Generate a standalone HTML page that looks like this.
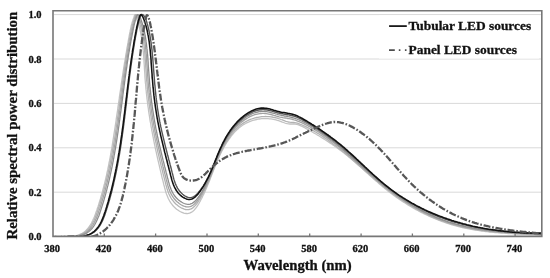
<!DOCTYPE html>
<html><head><meta charset="utf-8"><style>html,body{margin:0;padding:0;background:#fff;width:550px;height:278px;overflow:hidden}svg{display:block}</style></head>
<body><svg width="550" height="278" viewBox="0 0 550 278">
<rect width="550" height="278" fill="#fff"/>
<line x1="54" x2="541" y1="192.2" y2="192.2" stroke="#d9d9d9" stroke-width="1"/><line x1="54" x2="541" y1="147.8" y2="147.8" stroke="#d9d9d9" stroke-width="1"/><line x1="54" x2="541" y1="103.4" y2="103.4" stroke="#d9d9d9" stroke-width="1"/><line x1="54" x2="541" y1="59.0" y2="59.0" stroke="#d9d9d9" stroke-width="1"/><line x1="54" x2="541" y1="14.6" y2="14.6" stroke="#d9d9d9" stroke-width="1"/>
<g font-family="'Liberation Serif', serif" font-weight="bold" font-size="10.5" fill="#111" stroke="#111" stroke-width="0.3"><text x="52.2" y="252" text-anchor="middle">380</text><text x="103.6" y="252" text-anchor="middle">420</text><text x="154.9" y="252" text-anchor="middle">460</text><text x="206.3" y="252" text-anchor="middle">500</text><text x="257.6" y="252" text-anchor="middle">540</text><text x="309.0" y="252" text-anchor="middle">580</text><text x="360.4" y="252" text-anchor="middle">620</text><text x="411.7" y="252" text-anchor="middle">660</text><text x="463.1" y="252" text-anchor="middle">700</text><text x="514.4" y="252" text-anchor="middle">740</text><text x="41.5" y="240.2" text-anchor="end">0.0</text><text x="41.5" y="195.8" text-anchor="end">0.2</text><text x="41.5" y="151.4" text-anchor="end">0.4</text><text x="41.5" y="107.0" text-anchor="end">0.6</text><text x="41.5" y="62.6" text-anchor="end">0.8</text><text x="41.5" y="18.2" text-anchor="end">1.0</text></g>
<text x="297.6" y="269.6" text-anchor="middle" font-family="'Liberation Serif', serif" font-weight="bold" font-size="14.7" fill="#111" stroke="#111" stroke-width="0.3">Wavelength (nm)</text>
<text transform="translate(17,125.6) rotate(-90)" text-anchor="middle" font-family="'Liberation Serif', serif" font-weight="bold" font-size="14.85" fill="#111" stroke="#111" stroke-width="0.3">Relative spectral power distribution</text>
<clipPath id="pc"><rect x="53" y="10" width="488" height="227"/></clipPath>
<g clip-path="url(#pc)" stroke-linejoin="round"><path d="M44.0,236.8 45.1,236.7 46.2,236.7 47.4,236.6 48.6,236.6 49.8,236.6 51.1,236.7 52.4,236.7 53.7,236.7 55.0,236.8 56.4,236.8 57.8,236.9 59.2,236.9 60.6,236.9 62.0,236.9 63.4,237.0 64.9,236.9 66.3,236.9 67.7,236.9 69.1,236.8 70.4,236.7 71.8,236.5 73.1,236.3 74.5,236.1 75.7,235.8 77.0,235.5 78.2,235.1 79.4,234.7 80.5,234.2 81.6,233.7 82.7,233.0 83.7,232.4 84.6,231.7 85.5,230.9 86.4,230.0 87.2,229.1 88.0,228.2 88.8,227.2 89.5,226.2 90.2,225.2 90.9,224.1 91.5,223.0 92.1,221.8 92.7,220.6 93.2,219.4 93.8,218.2 94.3,217.0 94.8,215.7 95.3,214.4 95.8,213.1 96.2,211.8 96.7,210.5 97.1,209.3 97.5,208.0 98.0,206.7 98.4,205.4 98.8,204.1 99.2,202.8 99.6,201.5 100.0,200.2 100.4,198.9 100.7,197.6 101.1,196.3 101.5,195.0 101.8,193.7 102.2,192.5 102.6,191.2 102.9,189.9 103.2,188.6 103.6,187.3 103.9,186.0 104.2,184.7 104.6,183.5 104.9,182.2 105.2,180.9 105.5,179.6 105.8,178.3 106.1,177.0 106.4,175.8 106.7,174.5 106.9,173.2 107.2,171.9 107.5,170.6 107.8,169.4 108.0,168.1 108.3,166.8 108.6,165.5 108.8,164.2 109.1,163.0 109.3,161.7 109.6,160.4 109.8,159.1 110.1,157.8 110.3,156.6 110.5,155.3 110.8,154.0 111.0,152.7 111.2,151.4 111.4,150.2 111.7,148.9 111.9,147.6 112.1,146.3 112.3,145.0 112.5,143.7 112.7,142.5 112.9,141.2 113.1,139.9 113.3,138.6 113.5,137.3 113.7,136.0 113.9,134.7 114.1,133.4 114.3,132.2 114.5,130.9 114.7,129.6 114.9,128.3 115.1,127.0 115.3,125.7 115.5,124.4 115.7,123.1 115.9,121.8 116.1,120.5 116.2,119.2 116.4,117.9 116.6,116.6 116.8,115.3 117.0,114.0 117.2,112.7 117.4,111.4 117.6,110.1 117.8,108.8 117.9,107.5 118.1,106.2 118.3,104.9 118.5,103.6 118.7,102.3 118.9,101.0 119.1,99.7 119.3,98.3 119.4,97.0 119.6,95.7 119.8,94.4 120.0,93.1 120.2,91.8 120.4,90.5 120.6,89.2 120.8,87.9 121.0,86.6 121.2,85.2 121.3,83.9 121.5,82.6 121.7,81.3 121.9,80.0 122.1,78.7 122.3,77.4 122.5,76.1 122.7,74.8 122.9,73.4 123.1,72.1 123.3,70.8 123.5,69.5 123.7,68.2 123.9,66.9 124.1,65.6 124.3,64.3 124.5,63.0 124.8,61.7 125.0,60.4 125.2,59.1 125.4,57.8 125.6,56.5 125.8,55.2 126.0,53.9 126.3,52.6 126.5,51.3 126.7,50.0 126.9,48.7 127.1,47.4 127.4,46.1 127.6,44.8 127.8,43.5 128.1,42.2 128.3,40.9 128.5,39.6 128.8,38.3 129.0,37.0 129.2,35.8 129.5,34.5 129.7,33.2 130.0,31.9 130.2,30.6 130.5,29.4 130.8,28.1 131.0,26.8 131.3,25.5 131.7,24.3 132.0,23.0 132.4,21.7 132.8,20.5 133.2,19.2 133.7,17.9 134.1,16.6 134.5,15.3 134.8,14.7 135.1,15.3 135.6,16.5 136.2,17.9 136.8,19.2 137.2,20.5 137.7,21.7 138.1,22.9 138.5,24.1 138.8,25.3 139.2,26.6 139.5,27.8 139.8,29.0 140.1,30.3 140.4,31.5 140.7,32.8 140.9,34.0 141.2,35.3 141.4,36.6 141.6,37.9 141.8,39.2 142.0,40.4 142.2,41.7 142.4,43.0 142.6,44.3 142.7,45.7 142.9,47.0 143.0,48.3 143.1,49.6 143.2,50.9 143.4,52.2 143.5,53.6 143.6,54.9 143.7,56.2 143.8,57.6 143.9,58.9 144.0,60.2 144.0,61.6 144.1,62.9 144.2,64.2 144.3,65.6 144.4,66.9 144.4,68.2 144.5,69.6 144.6,70.9 144.7,72.2 144.8,73.6 144.9,74.9 144.9,76.2 145.0,77.6 145.1,78.9 145.2,80.2 145.3,81.5 145.4,82.9 145.6,84.2 145.7,85.5 145.8,86.8 145.9,88.1 146.0,89.4 146.2,90.7 146.3,92.1 146.4,93.4 146.6,94.7 146.7,96.0 146.9,97.3 147.0,98.6 147.2,99.9 147.3,101.2 147.5,102.5 147.7,103.8 147.8,105.1 148.0,106.4 148.2,107.7 148.4,109.0 148.5,110.3 148.7,111.6 148.9,112.8 149.1,114.1 149.3,115.4 149.5,116.7 149.7,118.0 149.9,119.3 150.1,120.6 150.3,121.9 150.6,123.2 150.8,124.5 151.0,125.8 151.2,127.1 151.5,128.3 151.7,129.6 151.9,130.9 152.2,132.2 152.4,133.5 152.7,134.8 152.9,136.1 153.2,137.4 153.4,138.7 153.7,140.0 153.9,141.2 154.2,142.5 154.4,143.8 154.7,145.1 155.0,146.4 155.2,147.7 155.5,149.0 155.8,150.3 156.1,151.6 156.4,152.9 156.6,154.1 156.9,155.4 157.2,156.7 157.5,158.0 157.8,159.3 158.1,160.6 158.4,161.9 158.7,163.1 159.0,164.4 159.3,165.7 159.6,167.0 159.9,168.3 160.2,169.6 160.5,170.9 160.8,172.1 161.1,173.4 161.4,174.7 161.7,176.0 162.0,177.3 162.3,178.6 162.7,179.9 163.0,181.1 163.3,182.4 163.6,183.7 163.9,185.0 164.3,186.3 164.6,187.5 164.9,188.8 165.3,190.1 165.6,191.3 166.0,192.6 166.4,193.8 166.9,195.1 167.4,196.3 167.9,197.5 168.4,198.7 169.0,199.8 169.6,201.0 170.3,202.1 171.0,203.2 171.8,204.2 172.6,205.3 173.5,206.3 174.5,207.3 175.5,208.2 176.6,209.2 177.8,210.0 178.9,210.8 180.1,211.5 181.4,212.1 182.6,212.6 183.8,213.1 185.0,213.4 186.2,213.5 187.4,213.6 188.5,213.4 189.6,213.2 190.6,212.7 191.6,212.2 192.6,211.5 193.5,210.8 194.4,209.9 195.2,208.9 196.0,207.9 196.8,206.8 197.6,205.7 198.3,204.5 199.0,203.3 199.7,202.0 200.4,200.8 201.0,199.5 201.7,198.3 202.3,197.1 202.9,195.8 203.5,194.6 204.1,193.4 204.7,192.1 205.2,190.9 205.7,189.7 206.3,188.5 206.8,187.2 207.3,186.0 207.8,184.8 208.3,183.6 208.8,182.4 209.3,181.2 209.8,180.0 210.2,178.8 210.7,177.5 211.2,176.3 211.7,175.1 212.1,173.9 212.6,172.7 213.0,171.5 213.5,170.3 214.0,169.1 214.5,168.0 214.9,166.8 215.4,165.6 215.9,164.4 216.4,163.2 216.9,162.0 217.4,160.8 217.9,159.6 218.4,158.4 219.0,157.2 219.5,156.0 220.1,154.8 220.6,153.6 221.2,152.5 221.8,151.3 222.4,150.1 223.1,148.9 223.7,147.7 224.3,146.5 225.0,145.4 225.7,144.2 226.4,143.0 227.1,141.9 227.9,140.8 228.6,139.7 229.4,138.6 230.2,137.5 231.0,136.4 231.8,135.4 232.7,134.3 233.5,133.3 234.4,132.4 235.3,131.4 236.2,130.5 237.2,129.6 238.2,128.7 239.1,127.8 240.2,127.0 241.2,126.2 242.2,125.5 243.3,124.8 244.4,124.1 245.6,123.5 246.7,122.9 247.9,122.3 249.0,121.8 250.3,121.3 251.5,120.9 252.7,120.5 254.0,120.1 255.2,119.8 256.5,119.5 257.8,119.2 259.1,119.0 260.4,118.8 261.7,118.7 263.0,118.6 264.3,118.6 265.6,118.6 266.9,118.6 268.2,118.7 269.6,118.8 270.9,118.9 272.2,119.1 273.5,119.3 274.8,119.6 276.0,119.9 277.3,120.3 278.6,120.7 279.8,121.1 281.1,121.6 282.3,122.1 283.5,122.5 284.8,123.0 286.0,123.4 287.3,123.7 288.6,123.9 290.0,124.0 291.3,124.0 292.7,124.0 294.0,124.0 295.3,124.2 296.6,124.4 297.9,124.7 299.1,125.1 300.3,125.6 301.5,126.1 302.7,126.7 303.9,127.3 305.0,127.9 306.2,128.6 307.3,129.2 308.5,129.8 309.6,130.5 310.8,131.2 311.9,131.8 313.1,132.5 314.2,133.1 315.4,133.8 316.5,134.5 317.6,135.1 318.8,135.8 319.9,136.5 321.0,137.2 322.1,137.9 323.3,138.6 324.4,139.3 325.5,140.0 326.6,140.7 327.7,141.4 328.8,142.1 329.9,142.9 331.0,143.6 332.1,144.3 333.2,145.1 334.2,145.8 335.3,146.6 336.4,147.3 337.5,148.1 338.5,148.9 339.6,149.7 340.6,150.4 341.7,151.2 342.7,152.0 343.7,152.8 344.8,153.7 345.8,154.5 346.8,155.3 347.8,156.1 348.8,157.0 349.8,157.8 350.8,158.6 351.8,159.5 352.8,160.3 353.8,161.2 354.8,162.1 355.8,162.9 356.8,163.8 357.8,164.7 358.8,165.5 359.8,166.4 360.7,167.3 361.7,168.1 362.7,169.0 363.7,169.9 364.6,170.8 365.6,171.7 366.6,172.5 367.6,173.4 368.5,174.3 369.5,175.2 370.5,176.1 371.5,176.9 372.5,177.8 373.5,178.7 374.4,179.6 375.4,180.4 376.4,181.3 377.4,182.1 378.4,183.0 379.4,183.9 380.4,184.7 381.4,185.6 382.4,186.4 383.4,187.3 384.4,188.1 385.5,188.9 386.5,189.7 387.5,190.6 388.6,191.4 389.6,192.2 390.6,193.0 391.7,193.8 392.8,194.6 393.8,195.4 394.9,196.1 395.9,196.9 397.0,197.7 398.1,198.4 399.2,199.2 400.3,199.9 401.4,200.6 402.5,201.4 403.6,202.1 404.7,202.8 405.8,203.5 406.9,204.2 408.0,204.9 409.2,205.6 410.3,206.3 411.4,207.0 412.6,207.6 413.7,208.3 414.9,208.9 416.0,209.6 417.2,210.2 418.3,210.8 419.5,211.4 420.7,212.1 421.8,212.7 423.0,213.2 424.2,213.8 425.4,214.4 426.6,215.0 427.8,215.5 428.9,216.1 430.1,216.6 431.3,217.2 432.6,217.7 433.8,218.2 435.0,218.7 436.2,219.2 437.4,219.7 438.6,220.2 439.9,220.7 441.1,221.1 442.3,221.6 443.6,222.0 444.8,222.4 446.0,222.9 447.3,223.3 448.5,223.7 449.8,224.1 451.0,224.5 452.3,224.8 453.6,225.2 454.8,225.6 456.1,225.9 457.3,226.2 458.6,226.6 459.9,226.9 461.2,227.2 462.4,227.5 463.7,227.8 465.0,228.1 466.3,228.3 467.6,228.6 468.9,228.9 470.2,229.1 471.5,229.3 472.8,229.6 474.0,229.8 475.3,230.0 476.6,230.2 477.9,230.4 479.3,230.6 480.6,230.8 481.9,231.0 483.2,231.2 484.5,231.3 485.8,231.5 487.1,231.7 488.4,231.8 489.7,232.0 491.0,232.1 492.4,232.2 493.7,232.4 495.0,232.5 496.3,232.6 497.6,232.7 498.9,232.8 500.3,232.9 501.6,233.0 502.9,233.1 504.2,233.2 505.5,233.3 506.8,233.4 508.2,233.5 509.5,233.6 510.8,233.7 512.1,233.7 513.4,233.8 514.8,233.9 516.1,233.9 517.4,234.0 518.7,234.1 520.0,234.1 521.3,234.2 522.7,234.2 524.0,234.3 525.3,234.3 526.6,234.4 527.9,234.4 529.2,234.5 530.5,234.5 531.8,234.6 533.1,234.6 534.5,234.7 535.8,234.7 537.1,234.8 538.4,234.8 539.7,234.9 541.0,234.9 541.0,234.9" stroke="#c2c2c2" stroke-width="1.3" fill="none"/><path d="M45.3,236.8 46.3,236.7 47.4,236.7 48.5,236.7 49.7,236.7 50.9,236.7 52.2,236.7 53.5,236.8 54.8,236.8 56.1,236.8 57.5,236.9 58.8,236.9 60.2,237.0 61.6,237.0 63.1,237.0 64.5,237.0 65.9,237.0 67.3,236.9 68.7,236.9 70.1,236.8 71.5,236.7 72.9,236.5 74.2,236.3 75.5,236.1 76.8,235.8 78.1,235.5 79.3,235.1 80.5,234.7 81.6,234.2 82.7,233.7 83.8,233.1 84.8,232.4 85.7,231.7 86.6,230.9 87.5,230.1 88.3,229.3 89.1,228.4 89.9,227.4 90.6,226.4 91.3,225.4 91.9,224.3 92.6,223.2 93.1,222.1 93.7,221.0 94.3,219.8 94.8,218.6 95.3,217.4 95.8,216.1 96.3,214.9 96.7,213.6 97.2,212.3 97.6,211.1 98.0,209.8 98.5,208.5 98.9,207.2 99.3,205.9 99.7,204.7 100.1,203.4 100.5,202.1 100.9,200.8 101.2,199.5 101.6,198.2 102.0,197.0 102.4,195.7 102.7,194.4 103.1,193.1 103.4,191.8 103.8,190.6 104.1,189.3 104.5,188.0 104.8,186.7 105.1,185.4 105.4,184.1 105.8,182.9 106.1,181.6 106.4,180.3 106.7,179.0 107.0,177.7 107.3,176.4 107.6,175.2 107.9,173.9 108.2,172.6 108.4,171.3 108.7,170.0 109.0,168.8 109.3,167.5 109.5,166.2 109.8,164.9 110.1,163.6 110.3,162.3 110.6,161.1 110.8,159.8 111.1,158.5 111.3,157.2 111.6,155.9 111.8,154.6 112.0,153.3 112.3,152.1 112.5,150.8 112.7,149.5 112.9,148.2 113.2,146.9 113.4,145.6 113.6,144.4 113.8,143.1 114.0,141.8 114.2,140.5 114.5,139.2 114.7,137.9 114.9,136.7 115.1,135.4 115.3,134.1 115.5,132.8 115.7,131.5 115.9,130.2 116.0,128.9 116.2,127.7 116.4,126.4 116.6,125.1 116.8,123.8 117.0,122.5 117.2,121.2 117.4,119.9 117.5,118.6 117.7,117.4 117.9,116.1 118.1,114.8 118.3,113.5 118.4,112.2 118.6,110.9 118.8,109.6 119.0,108.4 119.1,107.1 119.3,105.8 119.5,104.5 119.7,103.2 119.8,101.9 120.0,100.6 120.2,99.3 120.4,98.1 120.5,96.8 120.7,95.5 120.9,94.2 121.1,92.9 121.2,91.6 121.4,90.3 121.6,89.0 121.8,87.7 122.0,86.5 122.1,85.2 122.3,83.9 122.5,82.6 122.7,81.3 122.9,80.0 123.0,78.7 123.2,77.4 123.4,76.1 123.6,74.8 123.8,73.6 124.0,72.3 124.2,71.0 124.3,69.7 124.5,68.4 124.7,67.1 124.9,65.8 125.1,64.5 125.3,63.2 125.5,61.9 125.7,60.6 125.9,59.3 126.1,58.0 126.3,56.8 126.6,55.5 126.8,54.2 127.0,52.9 127.2,51.6 127.4,50.3 127.7,49.0 127.9,47.7 128.1,46.4 128.3,45.1 128.6,43.8 128.8,42.5 129.0,41.2 129.3,39.9 129.5,38.6 129.8,37.3 130.0,36.1 130.3,34.8 130.6,33.5 130.8,32.2 131.1,30.9 131.4,29.6 131.6,28.3 131.9,27.0 132.2,25.7 132.5,24.5 132.9,23.2 133.2,22.0 133.6,20.7 134.0,19.5 134.4,18.3 134.8,17.0 135.3,15.5 135.7,14.6 136.2,15.1 136.8,16.2 137.5,17.6 138.0,18.8 138.5,20.1 139.0,21.3 139.4,22.5 139.8,23.7 140.1,25.0 140.5,26.2 140.8,27.4 141.1,28.6 141.4,29.9 141.7,31.1 142.0,32.4 142.2,33.6 142.5,34.9 142.7,36.2 142.9,37.5 143.1,38.7 143.3,40.0 143.5,41.3 143.7,42.6 143.8,43.9 144.0,45.2 144.2,46.5 144.3,47.8 144.4,49.1 144.6,50.4 144.7,51.7 144.8,53.0 144.9,54.3 145.0,55.7 145.1,57.0 145.2,58.3 145.3,59.6 145.4,60.9 145.5,62.3 145.6,63.6 145.7,64.9 145.7,66.2 145.8,67.6 145.9,68.9 146.0,70.2 146.1,71.5 146.2,72.9 146.3,74.2 146.3,75.5 146.4,76.8 146.5,78.1 146.6,79.4 146.7,80.7 146.9,82.1 147.0,83.4 147.1,84.7 147.2,86.0 147.3,87.3 147.4,88.6 147.6,89.9 147.7,91.2 147.8,92.5 148.0,93.8 148.1,95.1 148.3,96.4 148.4,97.7 148.6,99.0 148.7,100.3 148.9,101.6 149.0,102.8 149.2,104.1 149.4,105.4 149.6,106.7 149.7,108.0 149.9,109.3 150.1,110.6 150.3,111.9 150.5,113.2 150.7,114.4 150.9,115.7 151.1,117.0 151.3,118.3 151.5,119.6 151.7,120.9 151.9,122.1 152.2,123.4 152.4,124.7 152.6,126.0 152.8,127.3 153.1,128.6 153.3,129.8 153.6,131.1 153.8,132.4 154.1,133.7 154.3,135.0 154.6,136.3 154.8,137.5 155.1,138.8 155.4,140.1 155.6,141.4 155.9,142.7 156.2,143.9 156.4,145.2 156.7,146.5 157.0,147.8 157.3,149.1 157.6,150.3 157.8,151.6 158.1,152.9 158.4,154.2 158.7,155.4 159.0,156.7 159.3,158.0 159.6,159.3 159.9,160.6 160.2,161.8 160.5,163.1 160.8,164.4 161.1,165.7 161.5,166.9 161.8,168.2 162.1,169.5 162.4,170.7 162.7,172.0 163.0,173.3 163.3,174.6 163.7,175.8 164.0,177.1 164.3,178.4 164.6,179.6 165.0,180.9 165.3,182.2 165.6,183.5 165.9,184.7 166.3,186.0 166.6,187.2 167.0,188.5 167.4,189.7 167.8,190.9 168.3,192.2 168.7,193.4 169.2,194.5 169.8,195.7 170.4,196.9 171.0,198.0 171.7,199.1 172.5,200.2 173.3,201.2 174.2,202.3 175.1,203.2 176.1,204.2 177.2,205.1 178.3,206.0 179.4,206.8 180.6,207.5 181.8,208.2 183.1,208.7 184.3,209.2 185.5,209.5 186.7,209.6 187.8,209.7 189.0,209.5 190.1,209.2 191.1,208.8 192.1,208.3 193.1,207.6 194.0,206.8 194.9,205.9 195.7,205.0 196.6,203.9 197.4,202.8 198.2,201.7 198.9,200.5 199.7,199.3 200.4,198.1 201.1,196.9 201.7,195.7 202.4,194.5 203.0,193.3 203.6,192.1 204.2,190.9 204.8,189.7 205.4,188.5 206.0,187.3 206.5,186.1 207.1,184.9 207.6,183.7 208.1,182.5 208.6,181.4 209.1,180.2 209.6,179.0 210.1,177.8 210.6,176.6 211.1,175.4 211.5,174.2 212.0,173.0 212.5,171.8 213.0,170.6 213.4,169.4 213.9,168.2 214.4,167.1 214.9,165.9 215.3,164.7 215.8,163.5 216.3,162.3 216.8,161.1 217.3,159.9 217.8,158.7 218.3,157.5 218.8,156.4 219.4,155.2 219.9,154.0 220.5,152.8 221.0,151.6 221.6,150.4 222.2,149.2 222.8,148.0 223.5,146.9 224.1,145.7 224.7,144.5 225.4,143.4 226.1,142.2 226.8,141.1 227.5,139.9 228.2,138.8 229.0,137.7 229.8,136.6 230.5,135.5 231.3,134.5 232.2,133.4 233.0,132.4 233.9,131.4 234.7,130.4 235.6,129.5 236.6,128.6 237.5,127.7 238.5,126.8 239.4,125.9 240.4,125.1 241.5,124.4 242.5,123.6 243.6,122.9 244.7,122.2 245.8,121.6 246.9,121.0 248.1,120.4 249.2,119.9 250.4,119.4 251.6,119.0 252.8,118.6 254.1,118.2 255.3,117.8 256.6,117.5 257.8,117.3 259.1,117.1 260.4,116.9 261.7,116.7 263.0,116.6 264.3,116.6 265.6,116.5 266.9,116.6 268.2,116.6 269.5,116.7 270.8,116.9 272.1,117.0 273.4,117.3 274.7,117.5 276.0,117.8 277.3,118.2 278.5,118.6 279.8,119.0 281.1,119.5 282.3,119.9 283.5,120.4 284.8,120.9 286.0,121.3 287.3,121.7 288.5,122.0 289.8,122.2 291.0,122.3 292.3,122.4 293.6,122.5 294.8,122.7 296.1,122.9 297.4,123.2 298.6,123.6 299.8,124.1 301.1,124.5 302.3,125.0 303.5,125.6 304.7,126.1 305.9,126.7 307.1,127.3 308.3,127.9 309.4,128.5 310.6,129.2 311.8,129.8 312.9,130.4 314.1,131.1 315.2,131.8 316.3,132.4 317.4,133.1 318.6,133.8 319.7,134.5 320.8,135.2 321.9,135.9 323.0,136.6 324.1,137.4 325.1,138.1 326.2,138.8 327.3,139.6 328.3,140.3 329.4,141.1 330.5,141.9 331.5,142.6 332.6,143.4 333.6,144.2 334.6,145.0 335.7,145.8 336.7,146.6 337.7,147.4 338.7,148.2 339.8,149.0 340.8,149.8 341.8,150.6 342.8,151.5 343.8,152.3 344.8,153.1 345.8,153.9 346.8,154.8 347.8,155.6 348.8,156.5 349.8,157.3 350.8,158.2 351.7,159.0 352.7,159.9 353.7,160.7 354.7,161.6 355.7,162.4 356.7,163.3 357.6,164.2 358.6,165.0 359.6,165.9 360.6,166.7 361.6,167.6 362.5,168.5 363.5,169.3 364.5,170.2 365.5,171.1 366.5,171.9 367.4,172.8 368.4,173.6 369.4,174.5 370.4,175.4 371.4,176.2 372.4,177.1 373.4,177.9 374.4,178.8 375.4,179.6 376.4,180.5 377.4,181.3 378.4,182.1 379.4,183.0 380.4,183.8 381.4,184.6 382.4,185.5 383.4,186.3 384.4,187.1 385.4,187.9 386.5,188.7 387.5,189.5 388.5,190.3 389.6,191.1 390.6,191.9 391.7,192.7 392.7,193.5 393.8,194.3 394.8,195.0 395.9,195.8 397.0,196.6 398.0,197.3 399.1,198.1 400.2,198.8 401.3,199.5 402.4,200.3 403.5,201.0 404.6,201.7 405.7,202.4 406.8,203.1 407.9,203.8 409.0,204.5 410.1,205.2 411.2,205.9 412.3,206.5 413.5,207.2 414.6,207.9 415.7,208.5 416.9,209.1 418.0,209.8 419.2,210.4 420.3,211.0 421.5,211.6 422.6,212.2 423.8,212.8 425.0,213.4 426.1,214.0 427.3,214.6 428.5,215.1 429.7,215.7 430.8,216.2 432.0,216.8 433.2,217.3 434.4,217.8 435.6,218.3 436.8,218.8 438.0,219.3 439.2,219.8 440.4,220.3 441.7,220.7 442.9,221.2 444.1,221.6 445.3,222.1 446.6,222.5 447.8,222.9 449.0,223.3 450.3,223.7 451.5,224.1 452.8,224.5 454.0,224.8 455.3,225.2 456.5,225.5 457.8,225.9 459.1,226.2 460.3,226.5 461.6,226.8 462.9,227.1 464.1,227.4 465.4,227.7 466.7,227.9 468.0,228.2 469.3,228.4 470.5,228.7 471.8,228.9 473.1,229.2 474.4,229.4 475.7,229.6 477.0,229.8 478.3,230.0 479.6,230.2 480.9,230.4 482.2,230.5 483.5,230.7 484.8,230.9 486.1,231.0 487.5,231.2 488.8,231.3 490.1,231.5 491.4,231.6 492.7,231.8 494.0,231.9 495.3,232.0 496.6,232.1 497.9,232.2 499.3,232.3 500.6,232.5 501.9,232.6 503.2,232.7 504.5,232.7 505.8,232.8 507.1,232.9 508.5,233.0 509.8,233.1 511.1,233.2 512.4,233.3 513.7,233.3 515.0,233.4 516.3,233.5 517.6,233.6 518.9,233.6 520.2,233.7 521.6,233.8 522.9,233.8 524.2,233.9 525.5,234.0 526.8,234.0 528.0,234.1 529.3,234.2 530.6,234.2 531.9,234.3 533.2,234.4 534.5,234.4 535.8,234.5 537.1,234.6 538.3,234.6 539.6,234.7 540.9,234.8 540.9,234.8" stroke="#b2b2b2" stroke-width="1.3" fill="none"/><path d="M46.7,236.8 47.7,236.7 48.8,236.7 49.9,236.7 51.1,236.7 52.3,236.7 53.6,236.7 54.8,236.8 56.2,236.8 57.5,236.8 58.8,236.9 60.2,236.9 61.6,237.0 63.0,237.0 64.4,237.0 65.8,237.0 67.2,237.0 68.7,237.0 70.1,236.9 71.4,236.8 72.8,236.7 74.2,236.5 75.5,236.3 76.9,236.1 78.1,235.8 79.4,235.5 80.6,235.1 81.8,234.7 83.0,234.2 84.1,233.7 85.1,233.1 86.1,232.5 87.1,231.8 88.0,231.0 88.8,230.2 89.7,229.3 90.4,228.4 91.2,227.5 91.9,226.5 92.6,225.5 93.3,224.4 93.9,223.3 94.5,222.2 95.0,221.1 95.6,219.9 96.1,218.7 96.6,217.5 97.1,216.2 97.6,215.0 98.0,213.7 98.5,212.5 98.9,211.2 99.3,209.9 99.8,208.7 100.2,207.4 100.6,206.1 101.0,204.8 101.4,203.5 101.8,202.3 102.1,201.0 102.5,199.7 102.9,198.4 103.3,197.1 103.6,195.9 104.0,194.6 104.3,193.3 104.7,192.0 105.0,190.7 105.4,189.5 105.7,188.2 106.0,186.9 106.4,185.6 106.7,184.3 107.0,183.1 107.3,181.8 107.6,180.5 107.9,179.2 108.2,177.9 108.5,176.7 108.8,175.4 109.1,174.1 109.4,172.8 109.7,171.5 109.9,170.3 110.2,169.0 110.5,167.7 110.7,166.4 111.0,165.1 111.3,163.9 111.5,162.6 111.8,161.3 112.0,160.0 112.3,158.7 112.5,157.5 112.7,156.2 113.0,154.9 113.2,153.6 113.4,152.3 113.7,151.0 113.9,149.8 114.1,148.5 114.3,147.2 114.5,145.9 114.8,144.6 115.0,143.4 115.2,142.1 115.4,140.8 115.6,139.5 115.8,138.2 116.0,136.9 116.2,135.7 116.4,134.4 116.6,133.1 116.8,131.8 117.0,130.5 117.2,129.2 117.4,128.0 117.5,126.7 117.7,125.4 117.9,124.1 118.1,122.8 118.3,121.5 118.5,120.3 118.6,119.0 118.8,117.7 119.0,116.4 119.2,115.1 119.3,113.8 119.5,112.5 119.7,111.3 119.9,110.0 120.0,108.7 120.2,107.4 120.4,106.1 120.6,104.8 120.7,103.6 120.9,102.3 121.1,101.0 121.2,99.7 121.4,98.4 121.6,97.1 121.8,95.8 121.9,94.6 122.1,93.3 122.3,92.0 122.4,90.7 122.6,89.4 122.8,88.1 123.0,86.8 123.1,85.5 123.3,84.3 123.5,83.0 123.7,81.7 123.8,80.4 124.0,79.1 124.2,77.8 124.4,76.5 124.6,75.3 124.7,74.0 124.9,72.7 125.1,71.4 125.3,70.1 125.5,68.8 125.7,67.5 125.9,66.2 126.1,65.0 126.3,63.7 126.5,62.4 126.7,61.1 126.9,59.8 127.1,58.5 127.3,57.2 127.5,55.9 127.7,54.6 127.9,53.4 128.1,52.1 128.3,50.8 128.5,49.5 128.8,48.2 129.0,46.9 129.2,45.6 129.4,44.3 129.7,43.0 129.9,41.8 130.2,40.5 130.4,39.2 130.6,37.9 130.9,36.6 131.1,35.3 131.4,34.0 131.7,32.7 131.9,31.4 132.2,30.2 132.5,28.9 132.7,27.6 133.0,26.3 133.3,25.0 133.7,23.7 134.0,22.5 134.3,21.2 134.7,20.0 135.1,18.7 135.5,17.5 136.0,16.2 136.5,15.0 137.1,14.7 137.7,15.4 138.4,16.7 139.0,18.1 139.6,19.4 140.0,20.6 140.4,21.8 140.8,23.0 141.2,24.2 141.5,25.4 141.9,26.6 142.2,27.9 142.5,29.1 142.8,30.3 143.1,31.6 143.3,32.8 143.6,34.1 143.8,35.3 144.1,36.6 144.3,37.9 144.5,39.1 144.7,40.4 144.9,41.7 145.0,43.0 145.2,44.3 145.4,45.6 145.5,46.9 145.6,48.2 145.8,49.5 145.9,50.8 146.0,52.1 146.1,53.4 146.3,54.7 146.4,56.1 146.5,57.4 146.6,58.7 146.7,60.0 146.7,61.3 146.8,62.7 146.9,64.0 147.0,65.3 147.1,66.6 147.2,68.0 147.3,69.3 147.4,70.6 147.4,71.9 147.5,73.3 147.6,74.6 147.7,75.9 147.8,77.2 147.9,78.5 148.0,79.8 148.1,81.2 148.2,82.5 148.3,83.8 148.5,85.1 148.6,86.4 148.7,87.7 148.8,89.0 149.0,90.3 149.1,91.6 149.2,92.9 149.4,94.2 149.5,95.4 149.7,96.7 149.8,98.0 150.0,99.3 150.1,100.6 150.3,101.9 150.4,103.2 150.6,104.5 150.8,105.7 151.0,107.0 151.1,108.3 151.3,109.6 151.5,110.9 151.7,112.2 151.9,113.4 152.1,114.7 152.3,116.0 152.5,117.3 152.7,118.6 152.9,119.8 153.2,121.1 153.4,122.4 153.6,123.7 153.8,124.9 154.1,126.2 154.3,127.5 154.6,128.8 154.8,130.1 155.0,131.3 155.3,132.6 155.6,133.9 155.8,135.2 156.1,136.4 156.3,137.7 156.6,139.0 156.9,140.3 157.2,141.5 157.4,142.8 157.7,144.1 158.0,145.4 158.3,146.6 158.6,147.9 158.9,149.2 159.2,150.5 159.5,151.7 159.8,153.0 160.1,154.3 160.4,155.6 160.7,156.8 161.0,158.1 161.3,159.4 161.6,160.6 161.9,161.9 162.2,163.2 162.5,164.5 162.8,165.7 163.1,167.0 163.5,168.3 163.8,169.5 164.1,170.8 164.4,172.1 164.7,173.4 165.1,174.6 165.4,175.9 165.7,177.2 166.0,178.4 166.3,179.7 166.7,181.0 167.0,182.2 167.3,183.5 167.7,184.8 168.0,186.0 168.4,187.2 168.8,188.5 169.3,189.7 169.7,190.9 170.2,192.1 170.8,193.3 171.3,194.4 172.0,195.5 172.7,196.6 173.4,197.7 174.2,198.8 175.1,199.8 176.0,200.8 177.0,201.7 178.1,202.6 179.2,203.5 180.3,204.3 181.5,205.0 182.7,205.6 183.9,206.1 185.1,206.5 186.4,206.8 187.5,206.9 188.7,206.9 189.8,206.7 190.8,206.3 191.9,205.8 192.9,205.2 193.8,204.5 194.7,203.7 195.6,202.8 196.5,201.8 197.3,200.8 198.1,199.7 198.9,198.5 199.6,197.4 200.3,196.2 201.0,195.0 201.7,193.8 202.4,192.6 203.0,191.5 203.7,190.3 204.3,189.1 204.9,187.9 205.5,186.7 206.1,185.5 206.6,184.3 207.2,183.1 207.7,181.9 208.2,180.7 208.8,179.5 209.3,178.3 209.8,177.1 210.3,175.9 210.8,174.7 211.3,173.5 211.7,172.3 212.2,171.1 212.7,169.9 213.2,168.7 213.6,167.5 214.1,166.3 214.6,165.1 215.1,163.9 215.5,162.7 216.0,161.5 216.5,160.3 217.0,159.1 217.5,157.9 218.0,156.7 218.5,155.5 219.0,154.4 219.5,153.2 220.1,152.0 220.6,150.8 221.2,149.6 221.7,148.5 222.3,147.3 222.9,146.1 223.5,145.0 224.1,143.8 224.8,142.7 225.4,141.6 226.1,140.4 226.8,139.3 227.5,138.2 228.2,137.1 228.9,136.0 229.7,134.9 230.4,133.9 231.2,132.8 232.0,131.8 232.8,130.8 233.7,129.8 234.5,128.8 235.4,127.8 236.3,126.9 237.2,126.0 238.2,125.0 239.1,124.2 240.1,123.3 241.1,122.5 242.1,121.6 243.2,120.9 244.2,120.1 245.3,119.4 246.5,118.6 247.6,118.0 248.7,117.3 249.9,116.7 251.1,116.2 252.3,115.6 253.5,115.2 254.8,114.7 256.0,114.4 257.3,114.1 258.5,113.8 259.8,113.6 261.1,113.5 262.3,113.4 263.6,113.4 264.9,113.5 266.2,113.6 267.5,113.8 268.7,114.1 270.0,114.4 271.3,114.7 272.6,115.0 273.9,115.4 275.2,115.7 276.4,116.1 277.7,116.4 279.0,116.8 280.3,117.1 281.5,117.3 282.8,117.6 284.1,117.8 285.3,118.0 286.6,118.2 287.8,118.5 289.1,118.7 290.3,118.9 291.6,119.2 292.8,119.5 294.1,119.9 295.3,120.2 296.5,120.6 297.7,121.1 299.0,121.6 300.2,122.1 301.4,122.6 302.6,123.1 303.8,123.7 305.0,124.3 306.1,124.9 307.3,125.5 308.5,126.1 309.6,126.7 310.8,127.3 311.9,128.0 313.1,128.6 314.2,129.3 315.3,130.0 316.4,130.6 317.5,131.3 318.6,132.0 319.7,132.7 320.8,133.4 321.9,134.2 323.0,134.9 324.1,135.6 325.1,136.4 326.2,137.1 327.3,137.9 328.3,138.6 329.4,139.4 330.4,140.2 331.4,141.0 332.5,141.7 333.5,142.5 334.5,143.3 335.5,144.1 336.5,144.9 337.6,145.8 338.6,146.6 339.6,147.4 340.6,148.2 341.6,149.0 342.6,149.9 343.6,150.7 344.6,151.6 345.5,152.4 346.5,153.2 347.5,154.1 348.5,155.0 349.5,155.8 350.5,156.7 351.4,157.5 352.4,158.4 353.4,159.3 354.4,160.1 355.3,161.0 356.3,161.9 357.3,162.7 358.2,163.6 359.2,164.5 360.2,165.3 361.2,166.2 362.1,167.1 363.1,167.9 364.1,168.8 365.0,169.7 366.0,170.6 367.0,171.4 368.0,172.3 368.9,173.2 369.9,174.0 370.9,174.9 371.9,175.7 372.9,176.6 373.8,177.5 374.8,178.3 375.8,179.2 376.8,180.0 377.8,180.9 378.8,181.7 379.8,182.5 380.8,183.4 381.8,184.2 382.8,185.0 383.8,185.9 384.8,186.7 385.9,187.5 386.9,188.3 387.9,189.1 388.9,189.9 390.0,190.7 391.0,191.5 392.1,192.3 393.1,193.1 394.2,193.8 395.2,194.6 396.3,195.4 397.4,196.1 398.4,196.9 399.5,197.6 400.6,198.3 401.7,199.1 402.7,199.8 403.8,200.5 404.9,201.2 406.0,201.9 407.1,202.6 408.2,203.3 409.3,204.0 410.5,204.7 411.6,205.4 412.7,206.0 413.8,206.7 415.0,207.3 416.1,208.0 417.2,208.6 418.4,209.2 419.5,209.9 420.7,210.5 421.8,211.1 423.0,211.7 424.1,212.3 425.3,212.9 426.5,213.4 427.6,214.0 428.8,214.6 430.0,215.1 431.2,215.6 432.3,216.2 433.5,216.7 434.7,217.2 435.9,217.7 437.1,218.2 438.3,218.7 439.5,219.2 440.7,219.7 442.0,220.1 443.2,220.6 444.4,221.0 445.6,221.4 446.9,221.9 448.1,222.3 449.3,222.7 450.6,223.1 451.8,223.5 453.0,223.8 454.3,224.2 455.5,224.6 456.8,224.9 458.1,225.2 459.3,225.6 460.6,225.9 461.8,226.2 463.1,226.5 464.4,226.8 465.7,227.0 466.9,227.3 468.2,227.6 469.5,227.8 470.8,228.1 472.1,228.3 473.3,228.6 474.6,228.8 475.9,229.0 477.2,229.2 478.5,229.4 479.8,229.6 481.1,229.8 482.4,230.0 483.7,230.2 485.0,230.4 486.3,230.5 487.6,230.7 488.9,230.8 490.2,231.0 491.5,231.1 492.8,231.3 494.1,231.4 495.5,231.5 496.8,231.7 498.1,231.8 499.4,231.9 500.7,232.0 502.0,232.1 503.3,232.2 504.6,232.3 505.9,232.4 507.2,232.5 508.5,232.6 509.9,232.7 511.2,232.8 512.5,232.9 513.8,233.0 515.1,233.1 516.4,233.2 517.7,233.2 519.0,233.3 520.3,233.4 521.6,233.5 522.9,233.5 524.2,233.6 525.5,233.7 526.8,233.8 528.1,233.8 529.4,233.9 530.7,234.0 531.9,234.0 533.2,234.1 534.5,234.2 535.8,234.3 537.1,234.3 538.4,234.4 539.6,234.5 540.9,234.6 540.9,234.6" stroke="#a2a2a2" stroke-width="1.3" fill="none"/><path d="M48.3,236.8 49.4,236.7 50.4,236.7 51.6,236.7 52.7,236.7 53.9,236.7 55.2,236.7 56.4,236.8 57.7,236.8 59.1,236.8 60.4,236.9 61.8,236.9 63.2,237.0 64.6,237.0 66.0,237.0 67.4,237.0 68.8,237.0 70.2,237.0 71.6,236.9 73.0,236.8 74.4,236.7 75.7,236.5 77.1,236.3 78.4,236.1 79.7,235.8 80.9,235.5 82.1,235.2 83.3,234.7 84.5,234.3 85.6,233.7 86.6,233.2 87.6,232.5 88.6,231.8 89.5,231.1 90.3,230.3 91.2,229.4 92.0,228.5 92.7,227.6 93.4,226.6 94.1,225.6 94.8,224.5 95.4,223.4 96.0,222.3 96.5,221.2 97.1,220.0 97.6,218.8 98.1,217.6 98.6,216.4 99.1,215.2 99.5,213.9 100.0,212.6 100.4,211.4 100.8,210.1 101.2,208.8 101.6,207.6 102.0,206.3 102.4,205.0 102.8,203.7 103.2,202.5 103.6,201.2 104.0,199.9 104.3,198.6 104.7,197.3 105.1,196.1 105.4,194.8 105.8,193.5 106.1,192.2 106.4,191.0 106.8,189.7 107.1,188.4 107.4,187.1 107.8,185.9 108.1,184.6 108.4,183.3 108.7,182.0 109.0,180.8 109.3,179.5 109.6,178.2 109.9,176.9 110.2,175.6 110.4,174.4 110.7,173.1 111.0,171.8 111.3,170.5 111.5,169.3 111.8,168.0 112.1,166.7 112.3,165.4 112.6,164.1 112.8,162.9 113.1,161.6 113.3,160.3 113.5,159.0 113.8,157.8 114.0,156.5 114.2,155.2 114.5,153.9 114.7,152.6 114.9,151.4 115.1,150.1 115.4,148.8 115.6,147.5 115.8,146.2 116.0,145.0 116.2,143.7 116.4,142.4 116.6,141.1 116.8,139.8 117.0,138.6 117.2,137.3 117.4,136.0 117.6,134.7 117.8,133.4 118.0,132.2 118.2,130.9 118.3,129.6 118.5,128.3 118.7,127.0 118.9,125.8 119.1,124.5 119.2,123.2 119.4,121.9 119.6,120.6 119.8,119.4 119.9,118.1 120.1,116.8 120.3,115.5 120.4,114.2 120.6,113.0 120.8,111.7 121.0,110.4 121.1,109.1 121.3,107.8 121.5,106.6 121.6,105.3 121.8,104.0 122.0,102.7 122.1,101.4 122.3,100.1 122.5,98.9 122.6,97.6 122.8,96.3 122.9,95.0 123.1,93.7 123.3,92.5 123.4,91.2 123.6,89.9 123.8,88.6 124.0,87.3 124.1,86.0 124.3,84.8 124.5,83.5 124.6,82.2 124.8,80.9 125.0,79.6 125.1,78.3 125.3,77.1 125.5,75.8 125.7,74.5 125.9,73.2 126.0,71.9 126.2,70.6 126.4,69.4 126.6,68.1 126.8,66.8 127.0,65.5 127.1,64.2 127.3,62.9 127.5,61.7 127.7,60.4 127.9,59.1 128.1,57.8 128.3,56.5 128.5,55.2 128.7,53.9 128.9,52.7 129.2,51.4 129.4,50.1 129.6,48.8 129.8,47.5 130.0,46.2 130.3,45.0 130.5,43.7 130.7,42.4 130.9,41.1 131.2,39.8 131.4,38.5 131.7,37.2 131.9,36.0 132.2,34.7 132.4,33.4 132.7,32.1 132.9,30.8 133.2,29.5 133.5,28.2 133.7,27.0 134.0,25.7 134.3,24.4 134.6,23.1 135.0,21.9 135.3,20.6 135.7,19.4 136.1,18.1 136.5,16.8 137.0,15.6 137.6,14.7 138.3,14.8 139.1,15.7 139.8,17.0 140.5,18.3 141.0,19.6 141.4,20.8 141.8,22.0 142.2,23.2 142.6,24.4 142.9,25.6 143.2,26.9 143.5,28.1 143.8,29.3 144.1,30.5 144.4,31.8 144.6,33.0 144.9,34.3 145.1,35.5 145.4,36.8 145.6,38.1 145.8,39.3 146.0,40.6 146.1,41.9 146.3,43.2 146.5,44.5 146.6,45.8 146.8,47.1 146.9,48.4 147.1,49.7 147.2,51.0 147.3,52.3 147.4,53.6 147.6,54.9 147.7,56.2 147.8,57.5 147.9,58.8 148.0,60.1 148.1,61.5 148.2,62.8 148.2,64.1 148.3,65.4 148.4,66.7 148.5,68.1 148.6,69.4 148.7,70.7 148.8,72.0 148.9,73.3 149.0,74.6 149.1,75.9 149.2,77.3 149.3,78.6 149.4,79.9 149.5,81.2 149.6,82.5 149.7,83.8 149.8,85.1 149.9,86.4 150.1,87.7 150.2,89.0 150.3,90.3 150.5,91.6 150.6,92.8 150.7,94.1 150.9,95.4 151.0,96.7 151.2,98.0 151.3,99.3 151.5,100.6 151.6,101.8 151.8,103.1 152.0,104.4 152.1,105.7 152.3,107.0 152.5,108.2 152.7,109.5 152.9,110.8 153.1,112.1 153.3,113.4 153.5,114.6 153.7,115.9 153.9,117.2 154.1,118.5 154.3,119.7 154.5,121.0 154.8,122.3 155.0,123.6 155.2,124.8 155.5,126.1 155.7,127.4 155.9,128.6 156.2,129.9 156.5,131.2 156.7,132.5 157.0,133.7 157.2,135.0 157.5,136.3 157.8,137.5 158.1,138.8 158.3,140.1 158.6,141.3 158.9,142.6 159.2,143.9 159.5,145.2 159.8,146.4 160.1,147.7 160.4,149.0 160.7,150.2 161.0,151.5 161.3,152.8 161.6,154.0 161.9,155.3 162.2,156.6 162.5,157.8 162.8,159.1 163.1,160.4 163.5,161.6 163.8,162.9 164.1,164.2 164.4,165.4 164.7,166.7 165.1,168.0 165.4,169.2 165.7,170.5 166.0,171.8 166.3,173.0 166.7,174.3 167.0,175.5 167.3,176.8 167.6,178.1 168.0,179.3 168.3,180.6 168.6,181.9 169.0,183.1 169.3,184.4 169.7,185.6 170.1,186.8 170.6,188.0 171.0,189.2 171.5,190.4 172.1,191.6 172.7,192.7 173.3,193.8 174.0,194.9 174.8,196.0 175.6,197.0 176.5,198.0 177.5,199.0 178.5,199.9 179.6,200.8 180.8,201.6 181.9,202.3 183.1,203.0 184.3,203.5 185.5,203.9 186.7,204.2 187.9,204.3 189.1,204.3 190.2,204.1 191.2,203.7 192.3,203.3 193.2,202.6 194.2,201.9 195.1,201.1 196.0,200.2 196.9,199.2 197.7,198.1 198.5,197.0 199.3,195.9 200.0,194.8 200.8,193.6 201.5,192.5 202.2,191.3 202.9,190.1 203.5,188.9 204.2,187.8 204.8,186.6 205.4,185.4 206.0,184.2 206.6,183.0 207.1,181.9 207.7,180.7 208.2,179.5 208.8,178.3 209.3,177.1 209.8,175.9 210.3,174.7 210.8,173.5 211.3,172.3 211.8,171.1 212.3,169.9 212.7,168.7 213.2,167.5 213.7,166.3 214.2,165.1 214.6,163.9 215.1,162.7 215.6,161.6 216.1,160.4 216.5,159.2 217.0,158.0 217.5,156.8 218.0,155.6 218.5,154.4 219.0,153.2 219.5,152.0 220.1,150.9 220.6,149.7 221.2,148.5 221.7,147.3 222.3,146.2 222.9,145.0 223.5,143.9 224.1,142.7 224.7,141.6 225.3,140.4 226.0,139.3 226.7,138.2 227.3,137.1 228.0,136.0 228.8,134.9 229.5,133.8 230.2,132.7 231.0,131.7 231.8,130.6 232.6,129.6 233.4,128.6 234.2,127.6 235.1,126.6 236.0,125.7 236.9,124.7 237.8,123.8 238.7,122.9 239.7,122.0 240.7,121.2 241.7,120.3 242.7,119.5 243.7,118.7 244.8,118.0 245.9,117.2 247.0,116.5 248.1,115.8 249.3,115.2 250.5,114.6 251.6,114.0 252.8,113.5 254.1,113.0 255.3,112.6 256.5,112.3 257.8,112.0 259.0,111.7 260.3,111.5 261.5,111.4 262.8,111.4 264.1,111.4 265.4,111.5 266.6,111.7 267.9,111.9 269.2,112.2 270.5,112.5 271.8,112.8 273.0,113.1 274.3,113.5 275.6,113.9 276.9,114.2 278.1,114.6 279.4,114.9 280.7,115.2 281.9,115.5 283.2,115.7 284.5,116.0 285.7,116.2 287.0,116.4 288.2,116.7 289.5,116.9 290.7,117.2 291.9,117.5 293.2,117.8 294.4,118.2 295.6,118.6 296.8,119.0 298.0,119.5 299.2,119.9 300.4,120.5 301.6,121.0 302.8,121.6 304.0,122.2 305.2,122.8 306.3,123.4 307.5,124.0 308.6,124.6 309.8,125.3 310.9,125.9 312.1,126.6 313.2,127.2 314.3,127.9 315.4,128.6 316.5,129.3 317.6,130.0 318.7,130.7 319.8,131.4 320.8,132.1 321.9,132.9 323.0,133.6 324.0,134.3 325.1,135.1 326.2,135.8 327.2,136.6 328.2,137.4 329.3,138.2 330.3,138.9 331.3,139.7 332.4,140.5 333.4,141.3 334.4,142.1 335.4,142.9 336.4,143.7 337.4,144.6 338.4,145.4 339.4,146.2 340.4,147.0 341.4,147.9 342.4,148.7 343.4,149.6 344.3,150.4 345.3,151.3 346.3,152.1 347.3,153.0 348.2,153.8 349.2,154.7 350.2,155.5 351.2,156.4 352.1,157.3 353.1,158.1 354.1,159.0 355.0,159.9 356.0,160.7 357.0,161.6 357.9,162.5 358.9,163.4 359.8,164.2 360.8,165.1 361.8,166.0 362.7,166.8 363.7,167.7 364.7,168.6 365.6,169.5 366.6,170.3 367.6,171.2 368.5,172.1 369.5,172.9 370.5,173.8 371.4,174.7 372.4,175.5 373.4,176.4 374.4,177.2 375.4,178.1 376.3,178.9 377.3,179.8 378.3,180.6 379.3,181.5 380.3,182.3 381.3,183.1 382.3,184.0 383.3,184.8 384.3,185.6 385.3,186.4 386.3,187.2 387.4,188.0 388.4,188.8 389.4,189.6 390.5,190.4 391.5,191.2 392.5,192.0 393.6,192.8 394.6,193.5 395.7,194.3 396.7,195.0 397.8,195.8 398.9,196.5 400.0,197.3 401.0,198.0 402.1,198.7 403.2,199.5 404.3,200.2 405.4,200.9 406.5,201.6 407.6,202.3 408.7,203.0 409.8,203.6 410.9,204.3 412.0,205.0 413.1,205.7 414.2,206.3 415.4,207.0 416.5,207.6 417.6,208.2 418.8,208.8 419.9,209.5 421.1,210.1 422.2,210.7 423.4,211.3 424.5,211.9 425.7,212.4 426.9,213.0 428.0,213.6 429.2,214.1 430.4,214.7 431.5,215.2 432.7,215.7 433.9,216.2 435.1,216.8 436.3,217.3 437.5,217.8 438.7,218.2 439.9,218.7 441.1,219.2 442.3,219.6 443.5,220.1 444.8,220.5 446.0,221.0 447.2,221.4 448.4,221.8 449.7,222.2 450.9,222.6 452.1,223.0 453.4,223.3 454.6,223.7 455.9,224.1 457.1,224.4 458.4,224.7 459.6,225.1 460.9,225.4 462.1,225.7 463.4,226.0 464.7,226.3 465.9,226.6 467.2,226.8 468.5,227.1 469.8,227.4 471.0,227.6 472.3,227.9 473.6,228.1 474.9,228.3 476.2,228.5 477.5,228.8 478.7,229.0 480.0,229.2 481.3,229.4 482.6,229.6 483.9,229.7 485.2,229.9 486.5,230.1 487.8,230.3 489.1,230.4 490.4,230.6 491.7,230.7 493.0,230.9 494.3,231.0 495.6,231.1 496.9,231.3 498.2,231.4 499.5,231.5 500.8,231.7 502.1,231.8 503.4,231.9 504.7,232.0 506.1,232.1 507.4,232.2 508.7,232.3 510.0,232.4 511.3,232.5 512.6,232.6 513.9,232.7 515.2,232.8 516.5,232.9 517.8,232.9 519.1,233.0 520.4,233.1 521.7,233.2 523.0,233.3 524.2,233.3 525.5,233.4 526.8,233.5 528.1,233.6 529.4,233.7 530.7,233.7 532.0,233.8 533.3,233.9 534.5,234.0 535.8,234.1 537.1,234.1 538.4,234.2 539.6,234.3 540.9,234.4 540.9,234.4" stroke="#8e8e8e" stroke-width="1.3" fill="none"/><path d="M54.2,236.8 55.2,236.7 56.3,236.7 57.4,236.7 58.5,236.7 59.7,236.7 60.9,236.7 62.2,236.8 63.4,236.8 64.8,236.8 66.1,236.9 67.4,236.9 68.8,237.0 70.2,237.0 71.6,237.0 72.9,237.0 74.3,237.0 75.7,237.0 77.1,236.9 78.5,236.8 79.8,236.7 81.2,236.6 82.5,236.4 83.8,236.2 85.1,235.9 86.3,235.6 87.6,235.3 88.7,234.9 89.9,234.4 91.0,234.0 92.0,233.4 93.0,232.8 94.0,232.1 94.9,231.4 95.8,230.6 96.6,229.8 97.4,228.9 98.1,228.0 98.8,227.1 99.5,226.1 100.2,225.1 100.8,224.0 101.4,222.9 101.9,221.8 102.5,220.7 103.0,219.5 103.5,218.3 104.0,217.1 104.4,215.9 104.9,214.7 105.3,213.4 105.7,212.2 106.1,210.9 106.5,209.7 106.9,208.4 107.3,207.1 107.7,205.9 108.1,204.6 108.5,203.4 108.8,202.1 109.2,200.8 109.6,199.6 109.9,198.3 110.2,197.1 110.6,195.8 110.9,194.5 111.3,193.3 111.6,192.0 111.9,190.8 112.2,189.5 112.5,188.2 112.8,187.0 113.2,185.7 113.5,184.4 113.7,183.2 114.0,181.9 114.3,180.7 114.6,179.4 114.9,178.1 115.2,176.9 115.4,175.6 115.7,174.4 116.0,173.1 116.2,171.8 116.5,170.6 116.7,169.3 117.0,168.0 117.2,166.8 117.5,165.5 117.7,164.3 117.9,163.0 118.2,161.7 118.4,160.5 118.6,159.2 118.8,157.9 119.0,156.7 119.3,155.4 119.5,154.2 119.7,152.9 119.9,151.6 120.1,150.4 120.3,149.1 120.5,147.8 120.7,146.6 120.9,145.3 121.1,144.0 121.3,142.8 121.4,141.5 121.6,140.3 121.8,139.0 122.0,137.7 122.2,136.5 122.3,135.2 122.5,133.9 122.7,132.7 122.9,131.4 123.0,130.1 123.2,128.9 123.4,127.6 123.5,126.4 123.7,125.1 123.9,123.8 124.0,122.6 124.2,121.3 124.3,120.0 124.5,118.8 124.7,117.5 124.8,116.2 125.0,115.0 125.1,113.7 125.3,112.4 125.4,111.2 125.6,109.9 125.7,108.6 125.9,107.4 126.0,106.1 126.2,104.9 126.3,103.6 126.5,102.3 126.6,101.1 126.8,99.8 126.9,98.5 127.1,97.3 127.2,96.0 127.4,94.7 127.5,93.5 127.7,92.2 127.8,90.9 128.0,89.7 128.1,88.4 128.3,87.1 128.4,85.9 128.6,84.6 128.8,83.3 128.9,82.1 129.1,80.8 129.2,79.5 129.4,78.3 129.5,77.0 129.7,75.7 129.9,74.5 130.0,73.2 130.2,71.9 130.4,70.7 130.5,69.4 130.7,68.1 130.9,66.9 131.0,65.6 131.2,64.3 131.4,63.1 131.6,61.8 131.8,60.5 131.9,59.3 132.1,58.0 132.3,56.7 132.5,55.5 132.7,54.2 132.9,52.9 133.1,51.7 133.3,50.4 133.5,49.1 133.7,47.9 133.9,46.6 134.1,45.3 134.3,44.1 134.5,42.8 134.7,41.5 135.0,40.3 135.2,39.0 135.4,37.7 135.6,36.5 135.9,35.2 136.1,33.9 136.4,32.7 136.6,31.4 136.8,30.1 137.1,28.9 137.4,27.6 137.6,26.3 137.9,25.1 138.2,23.8 138.5,22.5 138.8,21.3 139.1,20.0 139.4,18.7 139.8,17.5 140.3,16.3 140.8,15.2 141.6,14.5 142.6,14.6 143.6,15.3 144.4,16.4 145.1,17.6 145.7,18.9 146.1,20.1 146.5,21.3 146.9,22.5 147.2,23.7 147.6,24.9 147.9,26.1 148.2,27.3 148.5,28.5 148.8,29.8 149.0,31.0 149.3,32.2 149.6,33.5 149.8,34.7 150.0,36.0 150.2,37.2 150.4,38.5 150.6,39.7 150.8,41.0 151.0,42.2 151.2,43.5 151.4,44.8 151.5,46.1 151.7,47.3 151.8,48.6 152.0,49.9 152.1,51.2 152.2,52.4 152.3,53.7 152.5,55.0 152.6,56.3 152.7,57.6 152.8,58.9 152.9,60.2 153.0,61.5 153.1,62.8 153.2,64.0 153.3,65.3 153.4,66.6 153.5,67.9 153.6,69.2 153.7,70.5 153.8,71.8 153.9,73.1 154.0,74.4 154.1,75.7 154.2,76.9 154.3,78.2 154.4,79.5 154.5,80.8 154.6,82.1 154.7,83.4 154.8,84.6 155.0,85.9 155.1,87.2 155.2,88.5 155.3,89.8 155.4,91.0 155.6,92.3 155.7,93.6 155.8,94.8 156.0,96.1 156.1,97.4 156.3,98.7 156.4,99.9 156.6,101.2 156.8,102.5 156.9,103.7 157.1,105.0 157.3,106.3 157.4,107.5 157.6,108.8 157.8,110.0 158.0,111.3 158.2,112.6 158.4,113.8 158.6,115.1 158.8,116.3 159.1,117.6 159.3,118.8 159.5,120.1 159.7,121.4 160.0,122.6 160.2,123.9 160.5,125.1 160.7,126.4 161.0,127.6 161.3,128.9 161.5,130.1 161.8,131.4 162.1,132.6 162.4,133.9 162.7,135.1 163.0,136.4 163.3,137.6 163.6,138.9 163.9,140.1 164.2,141.3 164.5,142.6 164.8,143.8 165.1,145.1 165.4,146.3 165.7,147.6 166.0,148.8 166.4,150.1 166.7,151.3 167.0,152.5 167.3,153.8 167.6,155.0 168.0,156.3 168.3,157.5 168.6,158.8 168.9,160.0 169.3,161.2 169.6,162.5 169.9,163.7 170.2,165.0 170.6,166.2 170.9,167.5 171.2,168.7 171.5,169.9 171.8,171.2 172.1,172.4 172.5,173.7 172.8,174.9 173.1,176.2 173.4,177.4 173.7,178.6 174.1,179.9 174.5,181.1 174.9,182.3 175.3,183.5 175.8,184.6 176.3,185.8 176.9,186.9 177.5,188.1 178.2,189.2 178.9,190.2 179.7,191.3 180.6,192.3 181.6,193.3 182.6,194.2 183.7,195.1 184.8,195.9 185.9,196.5 187.0,197.0 188.2,197.4 189.3,197.6 190.4,197.6 191.5,197.4 192.6,197.1 193.6,196.6 194.6,196.0 195.6,195.2 196.5,194.4 197.5,193.5 198.4,192.5 199.2,191.5 200.1,190.4 200.9,189.3 201.7,188.2 202.4,187.2 203.2,186.1 203.9,185.0 204.6,183.9 205.3,182.7 205.9,181.6 206.6,180.5 207.2,179.4 207.8,178.2 208.4,177.1 208.9,175.9 209.5,174.8 210.0,173.6 210.6,172.4 211.1,171.3 211.6,170.1 212.1,168.9 212.6,167.8 213.1,166.6 213.6,165.4 214.1,164.2 214.6,163.0 215.0,161.9 215.5,160.7 216.0,159.5 216.5,158.3 216.9,157.1 217.4,156.0 217.9,154.8 218.4,153.6 218.9,152.4 219.4,151.3 219.9,150.1 220.4,148.9 221.0,147.8 221.5,146.6 222.1,145.5 222.6,144.3 223.2,143.2 223.8,142.0 224.4,140.9 225.0,139.8 225.6,138.7 226.3,137.5 226.9,136.5 227.6,135.4 228.3,134.3 229.0,133.2 229.7,132.2 230.5,131.1 231.2,130.1 232.0,129.1 232.8,128.1 233.6,127.1 234.4,126.1 235.3,125.1 236.1,124.2 237.0,123.2 237.9,122.3 238.9,121.4 239.8,120.6 240.8,119.7 241.7,118.9 242.7,118.1 243.8,117.3 244.8,116.5 245.9,115.7 247.0,115.0 248.1,114.3 249.2,113.7 250.4,113.0 251.5,112.5 252.7,111.9 253.9,111.4 255.1,111.0 256.3,110.6 257.5,110.3 258.7,110.0 259.9,109.8 261.2,109.7 262.4,109.6 263.7,109.6 264.9,109.7 266.1,109.8 267.4,110.0 268.6,110.3 269.9,110.6 271.2,110.9 272.4,111.2 273.7,111.6 274.9,112.0 276.2,112.3 277.4,112.7 278.7,113.0 280.0,113.3 281.2,113.6 282.5,113.8 283.8,114.1 285.1,114.3 286.3,114.5 287.6,114.7 288.8,114.9 290.1,115.2 291.3,115.4 292.5,115.7 293.7,116.1 294.9,116.4 296.1,116.9 297.3,117.3 298.5,117.8 299.6,118.4 300.8,118.9 301.9,119.5 303.0,120.1 304.2,120.7 305.3,121.3 306.4,122.0 307.5,122.6 308.6,123.2 309.7,123.9 310.8,124.6 311.9,125.2 313.0,125.9 314.1,126.6 315.2,127.3 316.2,128.0 317.3,128.6 318.4,129.4 319.5,130.1 320.5,130.8 321.6,131.5 322.7,132.2 323.7,132.9 324.8,133.7 325.8,134.4 326.8,135.2 327.9,135.9 328.9,136.7 330.0,137.4 331.0,138.2 332.0,138.9 333.0,139.7 334.0,140.5 335.1,141.3 336.1,142.1 337.1,142.9 338.1,143.7 339.1,144.5 340.1,145.3 341.0,146.1 342.0,146.9 343.0,147.7 344.0,148.6 345.0,149.4 345.9,150.2 346.9,151.1 347.9,151.9 348.8,152.7 349.8,153.6 350.7,154.4 351.7,155.3 352.7,156.1 353.6,157.0 354.6,157.9 355.5,158.7 356.4,159.6 357.4,160.4 358.3,161.3 359.3,162.2 360.2,163.0 361.2,163.9 362.1,164.8 363.1,165.6 364.0,166.5 364.9,167.4 365.9,168.2 366.8,169.1 367.8,170.0 368.7,170.8 369.7,171.7 370.6,172.5 371.6,173.4 372.5,174.2 373.5,175.1 374.4,175.9 375.4,176.8 376.3,177.6 377.3,178.5 378.3,179.3 379.3,180.1 380.2,181.0 381.2,181.8 382.2,182.6 383.2,183.4 384.2,184.3 385.1,185.1 386.1,185.9 387.1,186.7 388.2,187.4 389.2,188.2 390.2,189.0 391.2,189.8 392.2,190.6 393.3,191.3 394.3,192.1 395.3,192.8 396.4,193.6 397.4,194.3 398.5,195.0 399.5,195.8 400.6,196.5 401.7,197.2 402.7,197.9 403.8,198.6 404.9,199.3 406.0,200.0 407.1,200.7 408.2,201.3 409.3,202.0 410.4,202.7 411.5,203.3 412.6,204.0 413.7,204.6 414.8,205.2 415.9,205.9 417.0,206.5 418.2,207.1 419.3,207.7 420.4,208.3 421.6,208.9 422.7,209.5 423.9,210.0 425.0,210.6 426.2,211.2 427.3,211.7 428.5,212.3 429.6,212.8 430.8,213.3 432.0,213.9 433.2,214.4 434.3,214.9 435.5,215.4 436.7,215.9 437.9,216.3 439.1,216.8 440.3,217.3 441.5,217.7 442.7,218.2 443.9,218.6 445.1,219.1 446.3,219.5 447.5,219.9 448.7,220.3 449.9,220.7 451.1,221.1 452.3,221.5 453.6,221.9 454.8,222.2 456.0,222.6 457.3,222.9 458.5,223.3 459.7,223.6 461.0,223.9 462.2,224.2 463.4,224.5 464.7,224.8 465.9,225.1 467.2,225.4 468.4,225.7 469.7,226.0 470.9,226.2 472.2,226.5 473.4,226.7 474.7,227.0 476.0,227.2 477.2,227.4 478.5,227.7 479.8,227.9 481.0,228.1 482.3,228.3 483.6,228.5 484.8,228.7 486.1,228.9 487.4,229.1 488.6,229.2 489.9,229.4 491.2,229.6 492.5,229.8 493.7,229.9 495.0,230.1 496.3,230.2 497.6,230.4 498.8,230.5 500.1,230.6 501.4,230.8 502.7,230.9 504.0,231.0 505.2,231.2 506.5,231.3 507.8,231.4 509.1,231.5 510.4,231.6 511.6,231.8 512.9,231.9 514.2,232.0 515.5,232.1 516.8,232.2 518.0,232.3 519.3,232.4 520.6,232.5 521.9,232.6 523.2,232.7 524.4,232.8 525.7,232.8 527.0,232.9 528.3,233.0 529.5,233.1 530.8,233.2 532.1,233.3 533.4,233.4 534.6,233.5 535.9,233.6 537.2,233.6 538.4,233.7 539.7,233.8 541.0,233.9 541.0,233.9" stroke="#555555" stroke-width="1.4" fill="none"/><path d="M53.4,236.8 54.4,236.7 55.5,236.7 56.6,236.7 57.7,236.7 58.9,236.7 60.1,236.7 61.4,236.7 62.7,236.8 64.0,236.8 65.4,236.9 66.7,236.9 68.1,237.0 69.5,237.0 70.9,237.0 72.3,237.0 73.7,237.0 75.1,237.0 76.4,236.9 77.8,236.8 79.2,236.7 80.5,236.6 81.9,236.4 83.2,236.2 84.5,235.9 85.7,235.6 86.9,235.2 88.1,234.8 89.3,234.4 90.4,233.9 91.4,233.3 92.4,232.7 93.4,232.0 94.3,231.3 95.1,230.5 96.0,229.6 96.7,228.8 97.5,227.8 98.2,226.9 98.9,225.9 99.5,224.8 100.1,223.8 100.7,222.7 101.3,221.5 101.8,220.4 102.3,219.2 102.8,218.0 103.3,216.8 103.8,215.6 104.2,214.3 104.6,213.1 105.1,211.8 105.5,210.5 105.9,209.3 106.3,208.0 106.7,206.7 107.0,205.5 107.4,204.2 107.8,202.9 108.2,201.7 108.5,200.4 108.9,199.1 109.2,197.9 109.6,196.6 109.9,195.3 110.3,194.1 110.6,192.8 110.9,191.5 111.3,190.2 111.6,189.0 111.9,187.7 112.2,186.4 112.5,185.2 112.8,183.9 113.1,182.6 113.4,181.4 113.7,180.1 114.0,178.8 114.2,177.6 114.5,176.3 114.8,175.0 115.1,173.8 115.3,172.5 115.6,171.2 115.8,169.9 116.1,168.7 116.3,167.4 116.6,166.1 116.8,164.9 117.1,163.6 117.3,162.3 117.5,161.1 117.8,159.8 118.0,158.5 118.2,157.3 118.4,156.0 118.6,154.7 118.8,153.5 119.1,152.2 119.3,150.9 119.5,149.6 119.7,148.4 119.9,147.1 120.1,145.8 120.3,144.6 120.5,143.3 120.7,142.0 120.8,140.8 121.0,139.5 121.2,138.2 121.4,137.0 121.6,135.7 121.8,134.4 121.9,133.1 122.1,131.9 122.3,130.6 122.4,129.3 122.6,128.1 122.8,126.8 123.0,125.5 123.1,124.3 123.3,123.0 123.4,121.7 123.6,120.4 123.8,119.2 123.9,117.9 124.1,116.6 124.2,115.4 124.4,114.1 124.6,112.8 124.7,111.5 124.9,110.3 125.0,109.0 125.2,107.7 125.3,106.5 125.5,105.2 125.6,103.9 125.8,102.6 125.9,101.4 126.1,100.1 126.2,98.8 126.4,97.6 126.6,96.3 126.7,95.0 126.9,93.7 127.0,92.5 127.2,91.2 127.3,89.9 127.5,88.6 127.6,87.4 127.8,86.1 127.9,84.8 128.1,83.6 128.3,82.3 128.4,81.0 128.6,79.7 128.7,78.5 128.9,77.2 129.1,75.9 129.2,74.6 129.4,73.4 129.5,72.1 129.7,70.8 129.9,69.5 130.1,68.3 130.2,67.0 130.4,65.7 130.6,64.4 130.8,63.2 130.9,61.9 131.1,60.6 131.3,59.3 131.5,58.1 131.7,56.8 131.9,55.5 132.1,54.2 132.3,52.9 132.4,51.7 132.6,50.4 132.8,49.1 133.1,47.8 133.3,46.6 133.5,45.3 133.7,44.0 133.9,42.7 134.1,41.4 134.3,40.2 134.6,38.9 134.8,37.6 135.0,36.3 135.3,35.1 135.5,33.8 135.7,32.5 136.0,31.2 136.2,29.9 136.5,28.7 136.7,27.4 137.0,26.1 137.3,24.9 137.6,23.6 137.9,22.4 138.3,21.1 138.6,19.9 139.0,18.7 139.4,17.4 139.8,16.1 140.3,14.9 141.0,14.6 141.8,15.3 142.6,16.5 143.2,17.8 143.7,19.0 144.2,20.2 144.6,21.4 145.0,22.6 145.4,23.8 145.7,25.0 146.1,26.2 146.4,27.5 146.7,28.7 147.0,29.9 147.3,31.1 147.5,32.4 147.8,33.6 148.0,34.9 148.3,36.1 148.5,37.4 148.7,38.6 148.9,39.9 149.1,41.2 149.3,42.4 149.4,43.7 149.6,45.0 149.7,46.3 149.9,47.6 150.0,48.8 150.2,50.1 150.3,51.4 150.4,52.7 150.5,54.0 150.6,55.3 150.8,56.6 150.9,57.9 151.0,59.2 151.1,60.5 151.1,61.8 151.2,63.1 151.3,64.4 151.4,65.7 151.5,67.0 151.6,68.3 151.7,69.6 151.8,70.9 151.9,72.2 152.0,73.5 152.1,74.8 152.1,76.1 152.2,77.4 152.3,78.7 152.5,80.0 152.6,81.3 152.7,82.6 152.8,83.9 152.9,85.2 153.0,86.5 153.1,87.7 153.3,89.0 153.4,90.3 153.5,91.6 153.7,92.9 153.8,94.1 153.9,95.4 154.1,96.7 154.2,98.0 154.4,99.3 154.6,100.5 154.7,101.8 154.9,103.1 155.1,104.3 155.2,105.6 155.4,106.9 155.6,108.2 155.8,109.4 156.0,110.7 156.2,112.0 156.4,113.2 156.6,114.5 156.8,115.7 157.0,117.0 157.2,118.3 157.5,119.5 157.7,120.8 157.9,122.1 158.2,123.3 158.4,124.6 158.7,125.8 158.9,127.1 159.2,128.4 159.4,129.6 159.7,130.9 160.0,132.1 160.3,133.4 160.5,134.6 160.8,135.9 161.1,137.2 161.4,138.4 161.7,139.7 162.0,140.9 162.3,142.2 162.6,143.4 162.9,144.7 163.2,145.9 163.5,147.2 163.8,148.4 164.1,149.7 164.4,151.0 164.7,152.2 165.1,153.5 165.4,154.7 165.7,156.0 166.0,157.2 166.3,158.5 166.7,159.7 167.0,161.0 167.3,162.2 167.6,163.5 167.9,164.7 168.3,166.0 168.6,167.2 168.9,168.5 169.2,169.7 169.6,171.0 169.9,172.2 170.2,173.5 170.5,174.7 170.8,176.0 171.2,177.3 171.5,178.5 171.8,179.7 172.2,181.0 172.6,182.2 173.0,183.4 173.4,184.6 173.9,185.8 174.4,187.0 175.0,188.1 175.6,189.2 176.2,190.3 177.0,191.4 177.8,192.5 178.6,193.5 179.6,194.5 180.6,195.4 181.7,196.3 182.8,197.1 183.9,197.8 185.1,198.4 186.3,198.9 187.4,199.3 188.6,199.4 189.7,199.4 190.8,199.3 191.9,199.0 192.9,198.5 193.9,197.9 194.9,197.1 195.8,196.3 196.7,195.4 197.6,194.4 198.5,193.4 199.3,192.3 200.1,191.2 200.9,190.1 201.6,189.0 202.4,187.9 203.1,186.8 203.8,185.6 204.4,184.5 205.1,183.3 205.7,182.2 206.3,181.0 206.9,179.9 207.5,178.7 208.1,177.6 208.7,176.4 209.2,175.2 209.7,174.0 210.3,172.9 210.8,171.7 211.3,170.5 211.8,169.3 212.3,168.1 212.8,167.0 213.3,165.8 213.7,164.6 214.2,163.4 214.7,162.2 215.1,161.0 215.6,159.8 216.1,158.6 216.6,157.5 217.0,156.3 217.5,155.1 218.0,153.9 218.5,152.7 219.0,151.5 219.5,150.4 220.0,149.2 220.5,148.0 221.1,146.8 221.6,145.7 222.1,144.5 222.7,143.4 223.3,142.2 223.9,141.1 224.5,139.9 225.1,138.8 225.7,137.7 226.4,136.5 227.0,135.4 227.7,134.3 228.4,133.2 229.1,132.2 229.8,131.1 230.5,130.0 231.3,129.0 232.0,127.9 232.8,126.9 233.6,125.9 234.5,124.9 235.3,124.0 236.2,123.0 237.0,122.0 237.9,121.1 238.9,120.2 239.8,119.3 240.8,118.4 241.7,117.6 242.7,116.8 243.8,115.9 244.8,115.2 245.9,114.4 247.0,113.6 248.1,112.9 249.2,112.3 250.3,111.6 251.5,111.0 252.7,110.5 253.9,110.0 255.1,109.5 256.3,109.1 257.5,108.8 258.7,108.5 260.0,108.3 261.2,108.1 262.4,108.1 263.7,108.1 264.9,108.2 266.2,108.3 267.4,108.5 268.7,108.8 270.0,109.1 271.2,109.4 272.5,109.8 273.7,110.2 275.0,110.5 276.3,110.9 277.5,111.3 278.8,111.6 280.1,111.9 281.4,112.2 282.6,112.4 283.9,112.6 285.2,112.8 286.5,113.0 287.7,113.3 289.0,113.5 290.2,113.7 291.5,114.0 292.7,114.3 293.9,114.7 295.1,115.1 296.3,115.5 297.5,116.0 298.6,116.6 299.8,117.1 300.9,117.7 302.1,118.3 303.2,119.0 304.3,119.6 305.4,120.3 306.5,120.9 307.6,121.6 308.8,122.3 309.9,123.0 311.0,123.6 312.0,124.3 313.1,125.0 314.2,125.7 315.3,126.4 316.4,127.1 317.5,127.8 318.5,128.5 319.6,129.2 320.7,129.9 321.7,130.6 322.8,131.4 323.9,132.1 324.9,132.8 326.0,133.6 327.0,134.3 328.0,135.0 329.1,135.8 330.1,136.5 331.1,137.3 332.2,138.1 333.2,138.8 334.2,139.6 335.2,140.4 336.2,141.2 337.2,142.0 338.2,142.8 339.2,143.6 340.2,144.4 341.2,145.2 342.2,146.0 343.2,146.9 344.2,147.7 345.1,148.5 346.1,149.4 347.1,150.2 348.0,151.1 349.0,152.0 350.0,152.8 350.9,153.7 351.9,154.6 352.8,155.4 353.8,156.3 354.7,157.2 355.7,158.1 356.6,159.0 357.6,159.9 358.5,160.8 359.5,161.7 360.4,162.5 361.3,163.4 362.3,164.3 363.2,165.2 364.2,166.1 365.1,167.0 366.1,167.9 367.0,168.8 368.0,169.7 368.9,170.6 369.9,171.5 370.8,172.3 371.8,173.2 372.7,174.1 373.7,175.0 374.6,175.9 375.6,176.7 376.6,177.6 377.5,178.4 378.5,179.3 379.5,180.2 380.5,181.0 381.4,181.8 382.4,182.7 383.4,183.5 384.4,184.3 385.4,185.1 386.4,185.9 387.4,186.7 388.4,187.5 389.5,188.3 390.5,189.1 391.5,189.9 392.5,190.6 393.6,191.4 394.6,192.1 395.7,192.9 396.7,193.6 397.8,194.3 398.8,195.1 399.9,195.8 401.0,196.5 402.1,197.2 403.1,197.9 404.2,198.5 405.3,199.2 406.4,199.9 407.5,200.5 408.6,201.2 409.7,201.8 410.8,202.5 411.9,203.1 413.1,203.7 414.2,204.3 415.3,205.0 416.4,205.6 417.6,206.2 418.7,206.7 419.8,207.3 421.0,207.9 422.1,208.5 423.3,209.0 424.5,209.6 425.6,210.1 426.8,210.7 427.9,211.2 429.1,211.7 430.3,212.2 431.5,212.7 432.6,213.2 433.8,213.7 435.0,214.2 436.2,214.7 437.4,215.2 438.6,215.7 439.8,216.1 441.0,216.6 442.2,217.0 443.4,217.5 444.6,217.9 445.8,218.3 447.0,218.8 448.3,219.2 449.5,219.6 450.7,220.0 451.9,220.4 453.2,220.8 454.4,221.2 455.6,221.5 456.9,221.9 458.1,222.3 459.3,222.6 460.6,223.0 461.8,223.3 463.1,223.7 464.3,224.0 465.6,224.3 466.8,224.7 468.1,225.0 469.3,225.3 470.6,225.6 471.8,225.9 473.1,226.2 474.4,226.4 475.6,226.7 476.9,227.0 478.1,227.3 479.4,227.5 480.7,227.8 482.0,228.0 483.2,228.3 484.5,228.5 485.8,228.7 487.0,228.9 488.3,229.2 489.6,229.4 490.9,229.6 492.2,229.8 493.4,230.0 494.7,230.1 496.0,230.3 497.3,230.5 498.6,230.7 499.9,230.8 501.1,231.0 502.4,231.1 503.7,231.3 505.0,231.4 506.3,231.6 507.6,231.7 508.9,231.8 510.1,231.9 511.4,232.0 512.7,232.2 514.0,232.3 515.3,232.4 516.6,232.4 517.9,232.5 519.2,232.6 520.4,232.7 521.7,232.7 523.0,232.8 524.3,232.9 525.6,232.9 526.9,233.0 528.2,233.0 529.5,233.0 530.7,233.1 532.0,233.1 533.3,233.1 534.6,233.1 535.9,233.1 537.2,233.1 538.4,233.1 539.7,233.1 541.0,233.1 541.0,233.1" stroke="#111" stroke-width="1.55" fill="none"/><path d="M53.0,236.7 54.3,236.9 55.5,237.0 56.8,237.1 58.0,237.1 59.2,237.1 60.5,237.1 61.7,237.0 62.8,237.0 64.0,236.9 65.2,236.8 66.4,236.7 67.6,236.6 68.7,236.5 69.9,236.4 71.1,236.4 72.3,236.3 73.5,236.3 74.8,236.4 76.0,236.4 77.3,236.5 78.6,236.6 79.8,236.7 81.1,236.8 82.4,236.9 83.7,237.0 84.9,237.0 86.2,237.1 87.4,237.1 88.7,237.0 89.9,236.9 91.1,236.7 92.3,236.5 93.5,236.2 94.6,235.9 95.7,235.5 96.8,235.1 97.9,234.6 99.0,234.1 100.0,233.5 101.0,232.8 102.0,232.2 103.0,231.5 104.0,230.7 104.9,230.0 105.8,229.2 106.7,228.3 107.5,227.4 108.4,226.6 109.2,225.6 110.0,224.7 110.7,223.7 111.4,222.8 112.1,221.8 112.8,220.8 113.5,219.8 114.1,218.7 114.7,217.7 115.3,216.6 115.9,215.6 116.4,214.5 116.9,213.4 117.4,212.3 117.9,211.2 118.4,210.0 118.8,208.9 119.2,207.8 119.7,206.6 120.1,205.5 120.4,204.3 120.8,203.2 121.2,202.0 121.5,200.8 121.8,199.6 122.1,198.4 122.5,197.2 122.8,196.0 123.0,194.8 123.3,193.6 123.6,192.4 123.9,191.2 124.1,190.0 124.4,188.8 124.6,187.6 124.9,186.4 125.1,185.2 125.4,184.0 125.6,182.8 125.9,181.6 126.1,180.4 126.3,179.2 126.5,178.0 126.8,176.8 127.0,175.5 127.2,174.3 127.4,173.1 127.6,171.9 127.8,170.7 128.0,169.5 128.2,168.3 128.4,167.1 128.6,165.9 128.8,164.7 129.0,163.5 129.1,162.3 129.3,161.1 129.5,159.9 129.7,158.7 129.8,157.5 130.0,156.3 130.2,155.1 130.3,153.9 130.5,152.7 130.6,151.4 130.8,150.2 131.0,149.0 131.1,147.8 131.3,146.6 131.4,145.4 131.6,144.2 131.7,143.0 131.8,141.8 132.0,140.6 132.1,139.4 132.2,138.2 132.4,137.0 132.5,135.8 132.6,134.6 132.8,133.3 132.9,132.1 133.0,130.9 133.2,129.7 133.3,128.5 133.4,127.3 133.5,126.1 133.6,124.9 133.8,123.7 133.9,122.5 134.0,121.2 134.1,120.0 134.2,118.8 134.3,117.6 134.4,116.4 134.6,115.2 134.7,114.0 134.8,112.8 134.9,111.5 135.0,110.3 135.1,109.1 135.2,107.9 135.3,106.7 135.4,105.5 135.5,104.3 135.6,103.0 135.7,101.8 135.8,100.6 136.0,99.4 136.1,98.2 136.2,96.9 136.3,95.7 136.4,94.5 136.5,93.3 136.6,92.1 136.7,90.8 136.8,89.6 136.9,88.4 137.0,87.2 137.1,86.0 137.2,84.7 137.3,83.5 137.5,82.3 137.6,81.1 137.7,79.9 137.8,78.6 137.9,77.4 138.0,76.2 138.1,75.0 138.2,73.8 138.4,72.5 138.5,71.3 138.6,70.1 138.7,68.9 138.8,67.7 139.0,66.4 139.1,65.2 139.2,64.0 139.3,62.8 139.5,61.6 139.6,60.3 139.7,59.1 139.9,57.9 140.0,56.7 140.1,55.5 140.3,54.3 140.4,53.1 140.6,51.8 140.7,50.6 140.8,49.4 141.0,48.2 141.1,47.0 141.3,45.8 141.5,44.6 141.6,43.4 141.8,42.2 141.9,41.0 142.1,39.8 142.3,38.6 142.4,37.4 142.6,36.1 142.8,34.9 143.0,33.7 143.1,32.5 143.3,31.4 143.5,30.2 143.7,29.0 143.9,27.8 144.1,26.6 144.3,25.4 144.5,24.2 144.8,23.0 145.0,21.8 145.3,20.6 145.6,19.3 145.9,17.9 146.2,16.6 146.6,15.5 147.0,15.1 147.6,15.5 148.1,16.5 148.6,17.7 149.0,19.0 149.4,20.3 149.7,21.5 150.0,22.8 150.3,24.0 150.5,25.2 150.8,26.4 151.0,27.6 151.2,28.8 151.4,30.0 151.7,31.2 151.9,32.4 152.1,33.6 152.3,34.8 152.5,35.9 152.7,37.1 152.9,38.3 153.0,39.5 153.2,40.7 153.4,41.9 153.6,43.1 153.8,44.3 153.9,45.5 154.1,46.7 154.3,47.9 154.4,49.1 154.6,50.3 154.8,51.5 154.9,52.8 155.1,54.0 155.2,55.2 155.4,56.4 155.5,57.6 155.7,58.8 155.8,60.0 156.0,61.2 156.1,62.4 156.3,63.6 156.4,64.9 156.5,66.1 156.7,67.3 156.8,68.5 157.0,69.7 157.1,70.9 157.3,72.1 157.4,73.4 157.6,74.6 157.7,75.8 157.9,77.0 158.0,78.2 158.2,79.4 158.3,80.7 158.5,81.9 158.6,83.1 158.8,84.3 158.9,85.5 159.1,86.7 159.2,87.9 159.4,89.2 159.6,90.4 159.7,91.6 159.9,92.8 160.1,94.0 160.3,95.2 160.5,96.4 160.6,97.6 160.8,98.8 161.0,100.1 161.2,101.3 161.4,102.5 161.6,103.7 161.8,104.9 162.0,106.1 162.2,107.3 162.5,108.5 162.7,109.7 162.9,110.9 163.2,112.1 163.4,113.3 163.6,114.5 163.9,115.7 164.1,116.9 164.4,118.1 164.6,119.3 164.9,120.4 165.2,121.6 165.4,122.8 165.7,124.0 166.0,125.2 166.3,126.4 166.5,127.6 166.8,128.8 167.1,129.9 167.4,131.1 167.7,132.3 168.0,133.5 168.3,134.7 168.6,135.8 168.9,137.0 169.3,138.2 169.6,139.4 169.9,140.5 170.2,141.7 170.6,142.9 170.9,144.0 171.2,145.2 171.6,146.4 171.9,147.5 172.3,148.7 172.6,149.9 173.0,151.0 173.3,152.2 173.7,153.4 174.0,154.5 174.4,155.7 174.8,156.8 175.2,158.0 175.5,159.1 175.9,160.3 176.3,161.5 176.7,162.6 177.1,163.8 177.5,165.0 178.0,166.1 178.4,167.3 178.8,168.5 179.3,169.6 179.7,170.8 180.2,172.0 180.7,173.2 181.2,174.3 181.8,175.4 182.4,176.4 183.2,177.3 184.0,178.1 185.0,178.8 186.1,179.4 187.2,179.8 188.3,180.2 189.6,180.4 190.8,180.6 192.1,180.6 193.3,180.5 194.5,180.4 195.7,180.1 196.9,179.8 198.0,179.3 199.1,178.8 200.1,178.2 201.1,177.5 202.0,176.8 203.0,176.0 203.9,175.2 204.8,174.4 205.7,173.5 206.5,172.6 207.4,171.7 208.3,170.8 209.1,170.0 210.0,169.1 210.9,168.2 211.8,167.4 212.7,166.5 213.6,165.7 214.5,164.9 215.5,164.2 216.4,163.4 217.4,162.7 218.3,161.9 219.3,161.2 220.3,160.5 221.3,159.9 222.3,159.3 223.3,158.6 224.4,158.1 225.4,157.5 226.5,156.9 227.6,156.4 228.7,156.0 229.8,155.5 230.9,155.1 232.1,154.6 233.2,154.2 234.4,153.9 235.6,153.5 236.7,153.2 237.9,152.9 239.1,152.6 240.3,152.3 241.5,152.0 242.7,151.7 243.9,151.5 245.1,151.2 246.3,151.0 247.5,150.7 248.7,150.5 249.9,150.3 251.1,150.0 252.3,149.8 253.5,149.6 254.7,149.4 255.9,149.2 257.1,149.0 258.3,148.7 259.5,148.5 260.7,148.3 261.9,148.1 263.1,147.9 264.3,147.7 265.5,147.4 266.7,147.2 267.9,146.9 269.0,146.7 270.2,146.4 271.4,146.2 272.6,145.9 273.8,145.6 274.9,145.3 276.1,145.0 277.3,144.7 278.4,144.4 279.6,144.1 280.8,143.7 281.9,143.3 283.1,142.9 284.2,142.5 285.4,142.1 286.5,141.7 287.6,141.2 288.8,140.8 289.9,140.3 291.0,139.8 292.2,139.3 293.3,138.7 294.4,138.2 295.5,137.7 296.6,137.1 297.7,136.5 298.8,136.0 299.9,135.4 301.0,134.9 302.1,134.3 303.2,133.8 304.3,133.2 305.4,132.7 306.4,132.2 307.5,131.7 308.6,131.1 309.7,130.6 310.8,130.1 311.9,129.6 313.0,129.1 314.1,128.6 315.2,128.1 316.3,127.6 317.4,127.1 318.5,126.6 319.7,126.1 320.8,125.6 322.0,125.1 323.1,124.7 324.3,124.2 325.4,123.8 326.6,123.5 327.8,123.1 328.9,122.8 330.1,122.5 331.3,122.3 332.5,122.2 333.6,122.0 334.8,122.0 336.0,122.0 337.2,122.1 338.3,122.2 339.5,122.3 340.7,122.6 341.9,122.8 343.0,123.1 344.2,123.5 345.3,123.9 346.5,124.3 347.6,124.8 348.8,125.3 349.9,125.8 351.0,126.4 352.1,126.9 353.2,127.5 354.3,128.2 355.4,128.8 356.5,129.5 357.5,130.1 358.6,130.8 359.6,131.5 360.6,132.2 361.6,133.0 362.6,133.7 363.6,134.4 364.6,135.2 365.6,135.9 366.5,136.7 367.5,137.5 368.4,138.3 369.4,139.0 370.3,139.9 371.2,140.7 372.1,141.5 373.0,142.3 373.9,143.1 374.8,144.0 375.7,144.8 376.5,145.7 377.4,146.5 378.2,147.4 379.1,148.3 380.0,149.1 380.8,150.0 381.6,150.9 382.5,151.8 383.3,152.7 384.1,153.6 384.9,154.5 385.8,155.4 386.6,156.3 387.4,157.2 388.2,158.1 389.0,159.0 389.8,159.9 390.6,160.8 391.4,161.7 392.2,162.6 393.0,163.6 393.8,164.5 394.6,165.4 395.4,166.3 396.2,167.2 397.0,168.2 397.8,169.1 398.7,170.0 399.5,170.9 400.3,171.8 401.1,172.7 401.9,173.6 402.7,174.5 403.5,175.4 404.3,176.3 405.2,177.2 406.0,178.1 406.8,179.0 407.7,179.9 408.5,180.8 409.4,181.7 410.2,182.5 411.1,183.4 411.9,184.3 412.8,185.1 413.7,186.0 414.6,186.8 415.5,187.7 416.4,188.5 417.3,189.3 418.2,190.1 419.1,190.9 420.0,191.8 420.9,192.6 421.9,193.3 422.8,194.1 423.7,194.9 424.7,195.7 425.6,196.5 426.6,197.2 427.5,198.0 428.5,198.7 429.5,199.5 430.5,200.2 431.4,200.9 432.4,201.6 433.4,202.3 434.4,203.0 435.4,203.7 436.4,204.4 437.4,205.1 438.5,205.8 439.5,206.4 440.5,207.1 441.5,207.7 442.6,208.4 443.6,209.0 444.7,209.6 445.7,210.2 446.8,210.8 447.8,211.4 448.9,212.0 450.0,212.6 451.1,213.1 452.1,213.7 453.2,214.3 454.3,214.8 455.4,215.3 456.5,215.8 457.6,216.3 458.7,216.8 459.8,217.3 461.0,217.8 462.1,218.3 463.2,218.7 464.3,219.2 465.5,219.6 466.6,220.1 467.8,220.5 468.9,220.9 470.1,221.3 471.2,221.7 472.4,222.1 473.5,222.4 474.7,222.8 475.9,223.1 477.0,223.5 478.2,223.8 479.4,224.2 480.6,224.5 481.8,224.8 483.0,225.1 484.1,225.4 485.3,225.7 486.5,226.0 487.7,226.2 488.9,226.5 490.1,226.8 491.3,227.0 492.5,227.3 493.7,227.5 494.9,227.7 496.1,228.0 497.4,228.2 498.6,228.4 499.8,228.6 501.0,228.8 502.2,229.0 503.4,229.2 504.6,229.4 505.9,229.6 507.1,229.8 508.3,229.9 509.5,230.1 510.7,230.3 511.9,230.4 513.2,230.6 514.4,230.8 515.6,230.9 516.8,231.1 518.0,231.2 519.3,231.3 520.5,231.5 521.7,231.6 522.9,231.8 524.1,231.9 525.3,232.0 526.5,232.1 527.7,232.3 528.9,232.4 530.2,232.5 531.4,232.6 532.6,232.7 533.8,232.9 535.0,233.0 536.2,233.1 537.3,233.2 538.5,233.3 539.7,233.4 540.9,233.5 540.9,233.5" stroke="#575757" stroke-width="2.3" fill="none" stroke-dasharray="7 1.8 1.6 1.8" stroke-dashoffset="10.1"/></g>
<rect x="379" y="15.5" width="160" height="43" fill="#fff"/>
<line x1="389.1" x2="406.8" y1="26.1" y2="26.1" stroke="#1a1a1a" stroke-width="1.8"/>
<line x1="389" x2="406.5" y1="50.1" y2="50.1" stroke="#4d4d4d" stroke-width="1.9" stroke-dasharray="5.8 4 1.6 4.5 1.6"/>
<g font-family="'Liberation Serif', serif" font-weight="bold" font-size="13.4" fill="#111" stroke="#111" stroke-width="0.3">
<text x="408.6" y="30.4">Tubular LED sources</text>
<text x="408.6" y="54.3">Panel LED sources</text>
</g>
<line x1="104.3" x2="104.3" y1="233.5" y2="236" stroke="#777" stroke-width="1.3"/><line x1="155.6" x2="155.6" y1="233.5" y2="236" stroke="#777" stroke-width="1.3"/><line x1="207.0" x2="207.0" y1="233.5" y2="236" stroke="#777" stroke-width="1.3"/><line x1="258.3" x2="258.3" y1="233.5" y2="236" stroke="#777" stroke-width="1.3"/><line x1="309.7" x2="309.7" y1="233.5" y2="236" stroke="#777" stroke-width="1.3"/><line x1="361.1" x2="361.1" y1="233.5" y2="236" stroke="#777" stroke-width="1.3"/><line x1="412.4" x2="412.4" y1="233.5" y2="236" stroke="#777" stroke-width="1.3"/><line x1="463.8" x2="463.8" y1="233.5" y2="236" stroke="#777" stroke-width="1.3"/><line x1="515.1" x2="515.1" y1="233.5" y2="236" stroke="#777" stroke-width="1.3"/>
<path d="M53,10.7 H541.8 V236.4 H53 Z" fill="none" stroke="#777" stroke-width="1.6"/>
</svg></body></html>
